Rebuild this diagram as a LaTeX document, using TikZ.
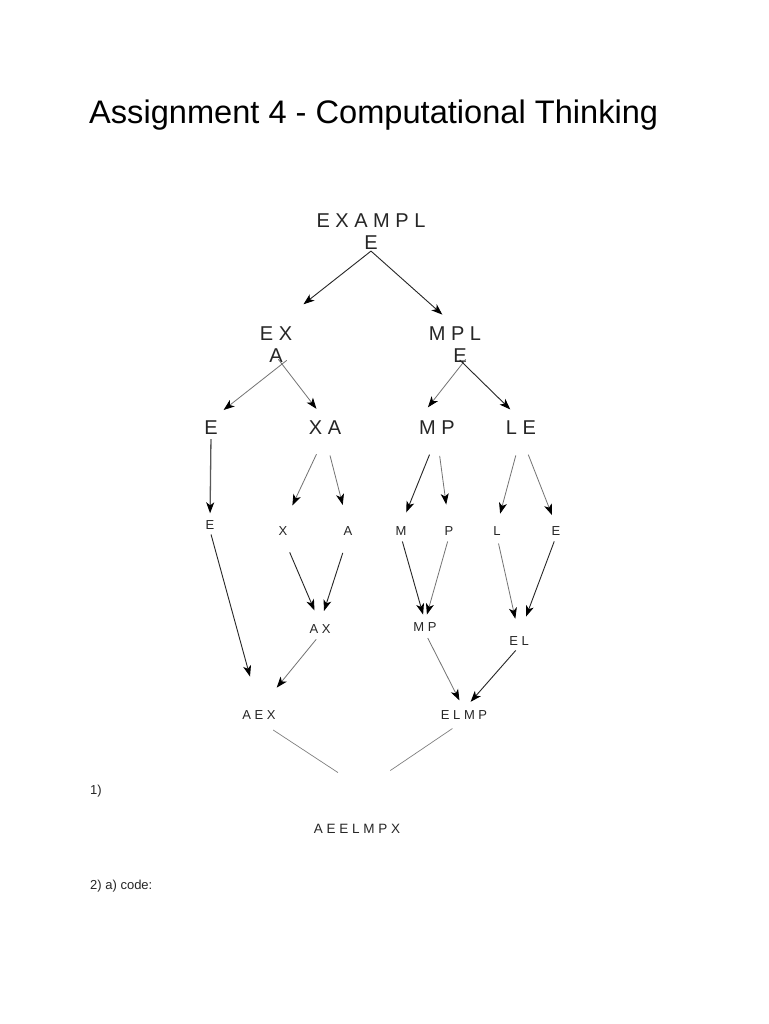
\documentclass[tikz,border=0pt]{standalone}
\usepackage{fontspec}
\setmainfont{Liberation Sans}
\usetikzlibrary{arrows.meta}

\begin{document}
\begin{tikzpicture}[x=1pt, y=-1pt,
    big/.style={inner sep=1pt, align=center, text=black!85, font=\fontsize{20}{22}\selectfont},
    small/.style={inner sep=1pt, text=black!85, font=\fontsize{13}{15}\selectfont},
    arr/.style={draw=black!55, line width=0.8pt, -{Stealth[length=11pt, width=8pt, inset=3pt, color=black]}},
    darr/.style={draw=black!85, line width=0.9pt, -{Stealth[length=11pt, width=8pt, inset=3pt, color=black]}},
    mergeline/.style={draw=black!50, line width=0.7pt}]
    \useasboundingbox[fill=white] (0,0) rectangle (768,1024);

    % Title
    \node[anchor=west, inner sep=0, font=\fontsize{32.6}{38}\selectfont] (title) at (89,115) {Assignment 4 - Computational Thinking};

    % Draw nodes
    \node[big] (example) at (371,232) {E X A M P L\\E};
    \node[big] (exa) at (276,345) {E X\\A};
    \node[big] (mple) at (455,345) {M P L\\\hspace*{10pt}E};
    \node[big] (e1) at (211,428) {E};
    \node[big] (xa) at (325,428) {X A};
    \node[big] (mp1) at (437,428) {M P};
    \node[big] (le) at (521,428) {L E};
    \node[small] (e2) at (210,525) {E};
    \node[small] (x) at (283,531) {X};
    \node[small] (a) at (348,531) {A};
    \node[small] (m) at (401,531) {M};
    \node[small] (p) at (449,531) {P};
    \node[small] (l) at (497,531) {L};
    \node[small] (e3) at (556,531) {E};
    \node[small] (ax) at (320,629) {A X};
    \node[small] (mp2) at (425,627) {M P};
    \node[small] (el) at (519,641) {E L};
    \node[small] (aex) at (259,715) {A E X};
    \node[small] (elmp) at (464,715) {E L M P};
    \node[small, font=\fontsize{13.5}{15}\selectfont] (result) at (357,829) {A E E L M P X};
    \coordinate (meet) at (363,789);

    % Labels
    \node[small, anchor=west] (q1) at (89,791) {1)};
    \node[small, anchor=west] (q2) at (89,886) {2) a) code:};

    % Draw connections
    \draw[darr, shorten >=35pt] (example.south) -- (exa.north);
    \draw[darr, shorten >=17pt] (example.south) -- (mple.north);
    \draw[arr, shorten <=-6pt, shorten >=16pt] ([xshift=6pt]exa.south) -- (e1.north);
    \draw[arr, shorten <=-6pt, shorten >=14pt] ([xshift=6pt]exa.south) -- (xa.north);
    \draw[arr, shorten <=-6pt, shorten >=16pt] ([xshift=7pt]mple.south) -- (mp1.north west);
    \draw[darr, shorten <=-6pt, shorten >=15pt] ([xshift=9pt]mple.south) -- (le.north);
    \draw[darr, line width=1.3pt, draw=black!65, shorten <=3pt, shorten >=6pt] (e1.south) -- (e2.north);
    \draw[arr, shorten <=20pt, shorten >=22pt] (xa.south) -- (x.north);
    \draw[arr, shorten <=20pt, shorten >=21pt] (xa.south) -- (a.north);
    \draw[darr, shorten <=20pt, shorten >=14pt] (mp1.south) -- (m.north);
    \draw[arr, shorten <=20pt, shorten >=21pt] (mp1.south) -- (p.north);
    \draw[arr, shorten <=20pt, shorten >=12pt] (le.south) -- (l.north);
    \draw[arr, shorten <=20pt, shorten >=11pt] (le.south) -- (e3.north);
    \draw[darr, shorten <=4pt, shorten >=34pt] (e2.south) -- (aex.north);
    \draw[darr, shorten <=17pt, shorten >=14pt] (x.south) -- (ax.north);
    \draw[darr, shorten <=17pt, shorten >=13pt] (a.south) -- (ax.north);
    \draw[darr, shorten <=5pt, shorten >=7pt] (m.south) -- (mp2.north);
    \draw[arr, shorten <=5pt, shorten >=7pt] (p.south) -- (mp2.north);
    \draw[arr, shorten <=7pt, shorten >=17pt] (l.south) -- (el.north);
    \draw[darr, shorten <=5pt, shorten >=20pt] (e3.south) -- (el.north);
    \draw[arr, shorten <=6pt, shorten >=28pt] (ax.south) -- (aex.north);
    \draw[arr, shorten <=6pt, shorten >=10pt] (mp2.south) -- (elmp.north);
    \draw[darr, shorten <=5pt, shorten >=10pt] (el.south) -- (elmp.north);
    \draw[mergeline, shorten <=17pt, shorten >=30pt] (aex.south) -- (meet);
    \draw[mergeline, shorten <=14pt, shorten >=33pt] (elmp.south) -- (meet);
\end{tikzpicture}
\end{document}
